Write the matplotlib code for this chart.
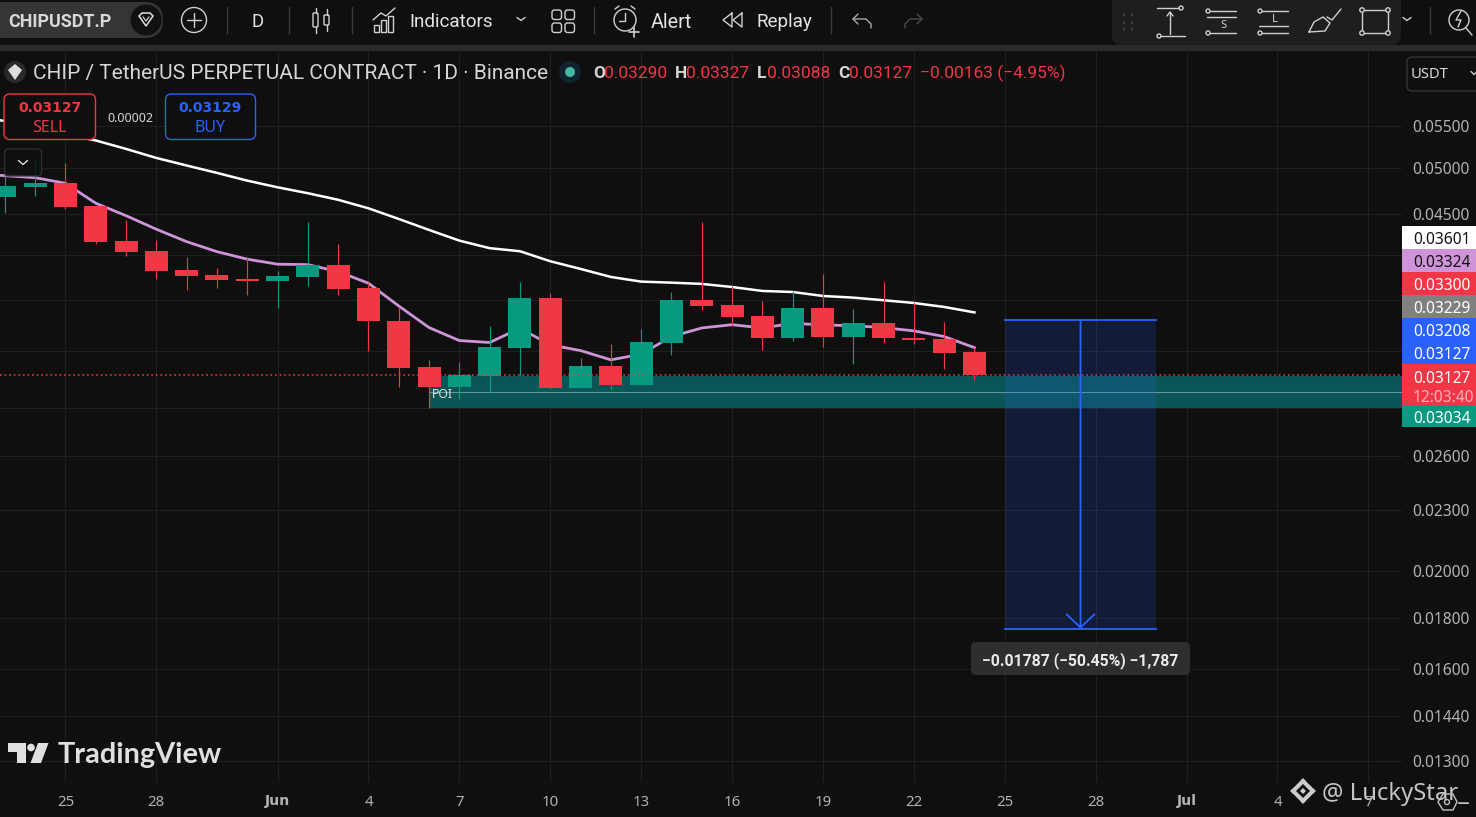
import numpy as np
import matplotlib
matplotlib.use("Agg")
import matplotlib.pyplot as plt
from matplotlib.patches import Circle, FancyBboxPatch, Rectangle, Polygon

# ---- data ------------------------------------------------------------------
days = list(range(-2, 31))
opens = [.04685, .04791, .04836, .04586, .04236, .04141, .03966, .03921, .03886, .03868, .03906,
         .04011, .03807, .03532, .03182, .03040, .03119, .03324, .03721, .03035, .03189, .03056,
         .03362, .03704, .03662, .03572, .03401, .03638, .03409, .03516, .03399, .03391, .03290]
highs = [.04977, .05115, .05053, .04586, .04443, .04246, .04085, .03984, .04082, .03957, .04423,
         .04207, .03859, .03648, .03233, .03218, .03492, .03859, .03764, .03247, .03352, .03469,
         .03772, .04423, .03824, .03696, .03781, .03930, .03630, .03859, .03688, .03524, .03327]
lows = [.04514, .04695, .04558, .04210, .04097, .03888, .03792, .03809, .03749, .03640, .03827,
        .03749, .03300, .03042, .02897, .02959, .03006, .03119, .03027, .03035, .03027, .03054,
        .03270, .03621, .03500, .03307, .03375, .03329, .03204, .03360, .03352, .03167, .03088]
closes = [.04799, .04836, .04579, .04229, .04134, .03960, .03912, .03879, .03868, .03912, .04011,
          .03801, .03532, .03177, .03040, .03124, .03330, .03721, .03035, .03189, .03056, .03367,
          .03704, .03657, .03566, .03401, .03638, .03409, .03516, .03401, .03386, .03285, .03127]
ma_days = list(range(-3, 31))
ma_fast = [.04938, .04913, .04891, .04829, .04615, .04486, .04350, .04229, .04134, .04064, .04018,
           .04014, .03951, .03848, .03654, .03479, .03378, .03363, .03474, .03345, .03302, .03233,
           .03275, .03409, .03476, .03502, .03476, .03513, .03500, .03494, .03479, .03453, .03409, .03324]
ma_slow = [.05626, .05562, .05488, .05401, .05322, .05221, .05115, .05028, .04944, .04858, .04785,
           .04721, .04651, .04562, .04453, .04343, .04239, .04167, .04138, .04045, .03975, .03903,
           .03862, .03853, .03842, .03815, .03781, .03772, .03738, .03724, .03702, .03679, .03646, .03601]
last_price = .03127
poi_start, poi_top, poi_mid, poi_bottom = 12, .03119, .03005, .02897
measure_start, measure_end, measure_top, measure_bottom = 31, 36, .03542, .01755
price_ticks = [.055, .05, .045, .041, .037, .033, .029, .026, .023, .02, .018, .016, .0144, .013]
covered_ticks = [.041, .037, .033, .029]
date_ticks = [0, 3, 7, 10, 13, 16, 19, 22, 25, 28, 31, 34, 37, 40, 43]
date_labels = ["25", "28", "Jun", "4", "7", "10", "13", "16", "19", "22", "25", "28", "Jul", "4", "7"]
tag_labels = ["0.03601", "0.03324", "0.03300", "0.03229", "0.03208", "0.03127", "0.03127", "0.03034"]

# ---- style -----------------------------------------------------------------
BG, GRID = "#0f0f0f", "#1f1f1f"
RED, GREEN, BLUE, PINK = "#f23645", "#089981", "#2962ff", "#ce93d8"
TXT, AXTXT = "#d6d6d6", "#b2b2b2"
NARROW = ["Roboto", "DejaVu Sans"]
NUM = ["Noto Sans", "DejaVu Sans"]
BOLD = ["DejaVu Sans"]

fig = plt.figure(figsize=(14.76, 8.17), dpi=100, facecolor=BG)
W, H = 1476.0, 817.0
ax = fig.add_axes([0, (H - 782) / H, 1402 / W, (782 - 52) / H], facecolor=BG)

# ---- chart -----------------------------------------------------------------
ax.set_yscale("log")
ax.set_xlim(-2.16, 44.11)
ax.set_ylim(.01239, .06507)
ax.set_yticks(price_ticks)
ax.set_yticklabels(["" if p in covered_ticks else f"{p:.5f}" for p in price_ticks],
                   family=NUM, fontsize=11.2, color=AXTXT)
ax.yaxis.set_minor_locator(matplotlib.ticker.NullLocator())
ax.yaxis.tick_right()
ax.set_xticks(date_ticks)
ax.set_xticklabels(date_labels, family=NUM, fontsize=10.8, color=AXTXT)
for lab in ax.get_xticklabels():
    if lab.get_text() in ("Jun", "Jul"):
        lab.set_family(BOLD)
        lab.set_fontweight("bold")
        lab.set_fontsize(10.2)
ax.tick_params(axis="both", length=0)
ax.tick_params(axis="y", pad=7.5)
ax.tick_params(axis="x", pad=9)
ax.grid(True, color=GRID, lw=0.75, zorder=0)
ax.set_axisbelow(True)
for s in ax.spines.values():
    s.set_visible(False)

ax.fill_between([poi_start, 46], poi_bottom, poi_top, color="#0a5a5a", alpha=.95, lw=0, zorder=1)
ax.plot([poi_start, 46], [poi_mid, poi_mid], color="#5f9a98", lw=.8, zorder=1.5)
ax.plot(ma_days, ma_slow, color="#ffffff", lw=1.8, zorder=2)
ax.plot(ma_days, ma_fast, color=PINK, lw=2.0, zorder=2)

cols = [GREEN if c >= o else RED for o, c in zip(opens, closes)]
ax.vlines(days, lows, highs, colors=cols, lw=.85, zorder=3)
ax.bar(days, [abs(c - o) for o, c in zip(opens, closes)], bottom=[min(o, c) for o, c in zip(opens, closes)],
       width=.76, color=cols, lw=0, zorder=3.5)
ax.axhline(last_price, color=RED, lw=1.1, ls=(0, (1.1, 1.9)), dash_capstyle="butt", zorder=4)

ax.fill_between([measure_start, measure_end], measure_bottom, measure_top, color=BLUE, alpha=.165, lw=0, zorder=5)
ax.plot([measure_start, measure_end], [measure_top] * 2, color=BLUE, lw=1.3, zorder=6)
ax.plot([measure_start, measure_end], [measure_bottom] * 2, color=BLUE, lw=1.3, zorder=6)
mid = (measure_start + measure_end) / 2
ax.annotate("", xy=(mid, measure_bottom), xytext=(mid, measure_top), zorder=6,
            arrowprops=dict(arrowstyle="->,head_length=.95,head_width=1.0", color=BLUE, lw=1.3,
                            shrinkA=0, shrinkB=0, mutation_scale=10))

# ---- interface overlay, in pixels ------------------------------------------
ui = fig.add_axes([0, 0, 1, 1], zorder=10)
ui.set_xlim(0, W)
ui.set_ylim(H, 0)
ui.axis("off")


def rbox(x0, y0, x1, y1, r, fc="none", ec="none", lw=1.0, z=2, alpha=None):
    ui.add_patch(FancyBboxPatch((x0 + r, y0 + r), x1 - x0 - 2 * r, y1 - y0 - 2 * r,
                                boxstyle=f"round,pad={r},rounding_size={r}", fc=fc, ec=ec, lw=lw, zorder=z, alpha=alpha))


def txt(x, y, s, size=13, color=TXT, ha="left", family=NARROW, weight="normal", z=5):
    ui.text(x, y, s, fontsize=size, color=color, ha=ha, va="center_baseline", family=family, fontweight=weight, zorder=z)


def seg(pts, color="#d0d0d0", lw=1.0, z=4):
    xs, ys = zip(*pts)
    ui.plot(xs, ys, color=color, lw=lw, zorder=z, solid_capstyle="round", solid_joinstyle="round")


def circ(x, y, r, fc="none", ec="#d0d0d0", lw=1.0, z=4):
    ui.add_patch(Circle((x, y), r, fc=fc, ec=ec, lw=lw, zorder=z))


def chev(x, y, w=4, h=3, color="#d0d0d0"):
    seg([(x - w, y - h / 2), (x, y + h / 2), (x + w, y - h / 2)], color=color)


# toolbar
ui.add_patch(Rectangle((0, 0), W, 45, fc=BG, ec="none", zorder=1))
ui.add_patch(Rectangle((0, 45), 1476, 6, fc="#2a2a2a", ec="none", zorder=1))
rbox(-20, 2, 163, 38, 18, fc="#353535", z=2)
txt(8, 20, "CHIPUSDT.P", 12.9, "#d8d8d8", weight="bold")
circ(146, 20, 15.5, fc="#111111", ec="none")
ui.add_patch(Polygon([(139, 16), (142, 13), (150, 13), (153, 16), (146, 26)], fc="none", ec="#e0e0e0", lw=1.1, zorder=5))
seg([(143, 17), (146, 21), (149, 17)], lw=.9, z=5)
circ(194, 20, 12.5)
seg([(187, 20), (201, 20)])
seg([(194, 13), (194, 27)])
for x in (227, 289, 352, 594, 831):
    seg([(x, 7), (x, 33)], color="#3a3a3a")
txt(258, 20, "D", 13.4, "#e0e0e0", ha="center")
rbox(313, 13, 318, 27, 1, ec="#d0d0d0")
rbox(324, 15, 329, 25, 1, ec="#d0d0d0")
seg([(315.5, 8), (315.5, 13)])
seg([(315.5, 27), (315.5, 33)])
seg([(326.5, 9), (326.5, 15)])
seg([(326.5, 25), (326.5, 31)])
for x0, y0 in ((374, 25), (381, 20), (388, 16)):
    ui.add_patch(Rectangle((x0, y0), 5, 32 - y0, fc="none", ec="#d0d0d0", lw=1, zorder=4))
seg([(373, 20), (381, 13), (386, 16), (395, 8)])
txt(409, 20, "Indicators", 13.6, "#e4e4e4")
chev(521, 19)
for x0 in (552, 565):
    for y0 in (10, 23):
        rbox(x0, y0, x0 + 9.5, y0 + 9.5, 2.5, ec="#d0d0d0")
circ(625, 20, 11)
seg([(625, 13), (625, 21), (619, 21)])
seg([(634, 27), (634, 37)], lw=1.2, z=5)
seg([(629, 32), (639, 32)], lw=1.2, z=5)
seg([(615, 9), (619, 6)])
seg([(631, 6), (635, 9)])
txt(651, 20, "Alert", 14.2, "#e4e4e4")
seg([(732, 13), (723, 20), (732, 27), (732, 13)])
seg([(742, 13), (733, 20), (742, 27), (742, 13)])
txt(757, 20, "Replay", 13.6, "#e4e4e4")
seg([(858, 14), (853, 19), (858, 24)], color="#a8a8a8")
seg([(853, 19), (866, 19), (871, 24), (871, 28)], color="#a8a8a8")
seg([(917, 14), (922, 19), (917, 24)], color="#4a4a4a")
seg([(922, 19), (910, 19), (905, 24), (905, 28)], color="#4a4a4a")

# drawing panel
rbox(1112, -20, 1401, 45, 10, fc="#1e1e1e", z=2)
for x in (1124, 1132):
    for y in (14, 22, 29):
        seg([(x, y), (x, y + 1)], color="#4a4a4a", lw=1.2)
seg([(1157, 8), (1179, 8)])
circ(1181, 8, 2)
seg([(1161, 36), (1185, 36)])
circ(1159, 36, 2)
seg([(1170, 12), (1170, 34)])
seg([(1167, 16), (1170, 12), (1173, 16)])
for x0, letter, ys in ((1210, "S", (11, 17, 33)), (1262, "L", (11, 26, 33))):
    seg([(x0, ys[0]), (x0 + 26, ys[0])])
    seg([(x0 - 3, ys[1]), (x0 + 26, ys[1])])
    seg([(x0, ys[2]), (x0 + 26, ys[2])])
    circ(x0 - 2, ys[0], 2)
    circ(x0 - 2, ys[2], 2)
    txt(x0 + 13, 24 if letter == "S" else 18, letter, 8, "#d0d0d0", ha="center", family=NUM)
seg([(1309, 32), (1314, 22), (1323, 17), (1330, 23), (1325, 31), (1309, 32)])
seg([(1327, 17), (1332, 20), (1341, 9)])
ui.add_patch(Rectangle((1362, 10), 26, 23, fc="none", ec="#d0d0d0", lw=1, zorder=4))
for x in (1362, 1388):
    for y in (10, 33):
        circ(x, y, 2.2, fc="#1e1e1e")
chev(1407, 19)
seg([(1430, 7), (1430, 33)], color="#3a3a3a")
circ(1459, 20, 10)
seg([(1466, 28), (1472, 35)])
seg([(1461, 11), (1456, 20), (1461, 20), (1458, 27)])

# legend line
circ(15, 72, 11, fc="#2a2a2a", ec="none")
ui.add_patch(Polygon([(8, 70), (15, 64), (22, 70), (15, 80)], fc="#dddddd", ec="none", zorder=5))
txt(33, 71, "CHIP / TetherUS PERPETUAL CONTRACT · 1D · Binance", 15.0, "#d6d6d6")
circ(570, 72, 11, fc="#10232e", ec="none")
circ(570, 72, 5, fc="#45b8a4", ec="none", z=5)
ohlc = [(593, "O", TXT), (604, "0.03290", RED), (675, "H", TXT), (686, "0.03327", RED), (757, "L", TXT),
        (767, "0.03088", RED), (838, "C", TXT), (849, "0.03127", RED), (920, "−0.00163 (−4.95%)", RED)]
for x, s, c in ohlc:
    txt(x, 71.5, s, 12.5, c, weight="bold" if c == TXT else "normal")

# order buttons
rbox(4, 94, 95.5, 139.5, 6, fc=BG, ec=RED)
rbox(165.5, 94, 255.5, 139.5, 6, fc=BG, ec=BLUE)
txt(50, 106.5, "0.03127", 10, RED, ha="center", family=BOLD, weight="bold")
txt(49, 125.5, "SELL", 11.5, RED, ha="center", family=NUM)
txt(130, 117, "0.00002", 9, "#d8d8d8", ha="center", family=NUM)
txt(210, 106.5, "0.03129", 10, BLUE, ha="center", family=BOLD, weight="bold")
txt(210, 125.5, "BUY", 11.5, BLUE, ha="center", family=NUM)
rbox(4.5, 149, 41.5, 176, 4, fc="#0f0f0f", ec="#333333", alpha=.85)
chev(23, 162.5, 4.5, 4, "#dddddd")

# POI
txt(432, 393, "POI", 8.8, "#e0e0e0", family=NUM)

# currency box
rbox(1407, 57, 1490, 91, 5, ec="#333333")
txt(1411, 72.5, "USDT", 10.6, "#d8d8d8", family=NUM)
chev(1474, 73, 3, 3)

# price tags
tag_boxes = [(226, 249, "#ffffff", "#131313"), (249, 272, PINK, "#131313"), (272, 295, RED, "#ffffff"),
             (295, 318, "#808080", "#ffffff"), (318, 341, BLUE, "#ffffff"), (341, 364, BLUE, "#ffffff"),
             (364, 405, RED, "#ffffff"), (405, 427, GREEN, "#ffffff")]
for (y0, y1, fc, tc), s in zip(tag_boxes, tag_labels):
    ui.add_patch(Rectangle((1402, y0), 74, y1 - y0, fc=fc, ec="none", zorder=3))
    ty = 376.5 if y1 == 405 else (y0 + y1) / 2 + .5
    txt(1413, ty, s, 11.2, tc, family=NUM)
txt(1413, 395.5, "12:03:40", 11.2, "#ffb3ba", family=NUM)

# measure label
rbox(971, 642, 1190, 675, 5, fc="#2e2e2e")
txt(1080, 658.5, "−0.01787 (−50.45%) −1,787", 11.3, "#ebebeb", ha="center", family=NARROW, weight="bold")

# TradingView mark
ui.add_patch(Polygon([(8, 743), (26, 743), (26, 763), (17, 763), (17, 752), (8, 752)], fc="#e0e0e0", ec="none", zorder=5))
circ(31, 747.5, 3.8, fc="#e0e0e0", ec="none")
ui.add_patch(Polygon([(38, 743), (48.5, 743), (41, 763), (30.5, 763)], fc="#e0e0e0", ec="none", zorder=5))
txt(58, 753, "TradingView", 20.8, "#e0e0e0", family=["Lato", "DejaVu Sans"], weight="bold")

# watermark + settings
cx, cy = 1303, 791
ui.add_patch(Polygon([(cx, cy - 13), (cx + 13, cy), (cx, cy + 13), (cx - 13, cy)], fc="#cccccc", ec="none", zorder=6))
ui.add_patch(Polygon([(cx, cy - 7), (cx + 7, cy), (cx, cy + 7), (cx - 7, cy)], fc=BG, ec="none", zorder=6.1))
ui.add_patch(Polygon([(cx, cy - 3), (cx + 3, cy), (cx, cy + 3), (cx - 3, cy)], fc="#cccccc", ec="none", zorder=6.2))
for sx, sy in ((1, 1), (1, -1), (-1, 1), (-1, -1)):
    seg([(cx + sx * 4, cy + sy * 10), (cx + sx * 10, cy + sy * 4)], color=BG, lw=1.0, z=6.15)
txt(1322, 791, "@ LuckyStar_", 17.2, "#c4c4c4", family=NUM, z=6)
ui.add_patch(Polygon([(1438, 802), (1443, 794), (1453, 794), (1457, 802), (1453, 810), (1443, 810)], fc="none", ec="#c0c0c0", lw=1, zorder=5))
circ(1447, 802, 2.5, ec="#c0c0c0")

fig.savefig("out.png", dpi=100, facecolor=BG)
